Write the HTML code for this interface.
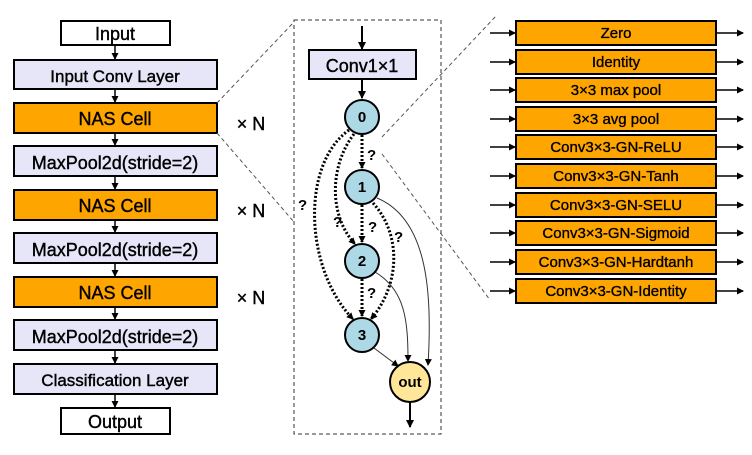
<!DOCTYPE html>
<html><head><meta charset="utf-8"><style>
html,body{margin:0;padding:0;background:#fff;}
svg text{font-family:"Liberation Sans",sans-serif;}
</style></head><body>
<svg width="752" height="450" viewBox="0 0 752 450" xmlns="http://www.w3.org/2000/svg">
<defs>
<marker id="a" markerWidth="8" markerHeight="8" refX="7" refY="4" orient="auto" markerUnits="userSpaceOnUse"><path d="M0,0 L8,4 L0,8 z" fill="#000"/></marker>
<marker id="s" markerWidth="7" markerHeight="7" refX="6" refY="3.5" orient="auto" markerUnits="userSpaceOnUse"><path d="M0,0 L7,3.5 L0,7 z" fill="#000"/></marker>
</defs>
<g stroke="#000" stroke-width="2">
<rect x="61" y="21" width="109" height="24" fill="#fff"/>
<rect x="14" y="60" width="203" height="29" fill="#E6E6F8"/>
<rect x="14" y="103" width="203" height="30" fill="#FFA500"/>
<rect x="14" y="146" width="203" height="30" fill="#E6E6F8"/>
<rect x="14" y="190" width="203" height="30" fill="#FFA500"/>
<rect x="14" y="233" width="203" height="30" fill="#E6E6F8"/>
<rect x="14" y="277" width="203" height="30" fill="#FFA500"/>
<rect x="14" y="320" width="203" height="30" fill="#E6E6F8"/>
<rect x="14" y="364" width="203" height="30" fill="#E6E6F8"/>
<rect x="61" y="408" width="109" height="26" fill="#fff"/>
</g>
<g stroke="#000" stroke-width="1.5" marker-end="url(#s)">
<line x1="115" y1="45" x2="115" y2="59"/>
<line x1="115" y1="89" x2="115" y2="102"/>
<line x1="115" y1="133" x2="115" y2="145"/>
<line x1="115" y1="176" x2="115" y2="189"/>
<line x1="115" y1="220" x2="115" y2="232"/>
<line x1="115" y1="263" x2="115" y2="276"/>
<line x1="115" y1="307" x2="115" y2="319"/>
<line x1="115" y1="350" x2="115" y2="363"/>
<line x1="115" y1="394" x2="115" y2="407"/>
</g>
<g font-size="18" text-anchor="middle" fill="#000" stroke="#000" stroke-width="0.4">
<text x="115" y="40">Input</text>
<text x="115" y="82" font-size="17">Input Conv Layer</text>
<text x="115" y="125">NAS Cell</text>
<text x="115" y="169">MaxPool2d(stride=2)</text>
<text x="115" y="212">NAS Cell</text>
<text x="115" y="256">MaxPool2d(stride=2)</text>
<text x="115" y="299">NAS Cell</text>
<text x="115" y="343">MaxPool2d(stride=2)</text>
<text x="115" y="386" font-size="17">Classification Layer</text>
<text x="115" y="428">Output</text>
<text x="251" y="130">× N</text>
<text x="251" y="217">× N</text>
<text x="251" y="304">× N</text>
</g>
<g stroke="#555" stroke-width="1" stroke-dasharray="4,3" fill="none">
<line x1="217" y1="103" x2="294" y2="22"/>
<line x1="217" y1="133" x2="294" y2="222"/>
<line x1="382" y1="137" x2="496" y2="16"/>
<line x1="382" y1="154" x2="490" y2="300"/>
<rect x="294" y="20" width="147" height="414" stroke="#333"/>
</g>
<line x1="362" y1="26" x2="362" y2="49" stroke="#000" stroke-width="2" marker-end="url(#a)"/>
<rect x="309" y="50" width="107" height="29" fill="#E6E6F8" stroke="#000" stroke-width="2"/>
<text x="362" y="72" font-size="18" text-anchor="middle" stroke="#000" stroke-width="0.4">Conv1×1</text>
<line x1="362" y1="79" x2="362" y2="98" stroke="#000" stroke-width="2" marker-end="url(#a)"/>
<g stroke="#000" stroke-width="3" stroke-dasharray="2,2" fill="none" marker-end="url(#s)">
<line x1="362" y1="135" x2="362" y2="168"/>
<line x1="362" y1="205" x2="362" y2="242"/>
<line x1="362" y1="279" x2="362" y2="316"/>
<path d="M354,134 C330,165 328,215 355,244"/>
<path d="M349,130 C300,165 305,270 353,319"/>
<path d="M373,203 C402,235 400,285 371,319"/>
</g>
<g stroke="#333" stroke-width="1" fill="none" marker-end="url(#s)">
<path d="M377,198 C430,220 432,300 428,365"/>
<path d="M375,272 C405,290 408,320 408,361"/>
<line x1="374" y1="348" x2="398" y2="366"/>
</g>
<line x1="410" y1="402" x2="410" y2="427" stroke="#000" stroke-width="2" marker-end="url(#a)"/>
<g stroke="#000" stroke-width="2" fill="#ADD8E6">
<circle cx="362" cy="117" r="17"/>
<circle cx="362" cy="187" r="17"/>
<circle cx="362" cy="261" r="17"/>
<circle cx="362" cy="335" r="17"/>
<circle cx="410" cy="382" r="20" fill="#FFE699"/>
</g>
<g font-size="15" font-weight="bold" text-anchor="middle">
<text x="362" y="122">0</text>
<text x="362" y="192">1</text>
<text x="362" y="266">2</text>
<text x="362" y="340">3</text>
<text x="410" y="387">out</text>
</g>
<g font-size="15" font-weight="bold">
<text x="367" y="160">?</text>
<text x="298" y="210">?</text>
<text x="333" y="227">?</text>
<text x="368" y="232">?</text>
<text x="394" y="242">?</text>
<text x="367" y="298">?</text>
</g>
<g stroke="#000" stroke-width="2" fill="#FFA500">
<rect x="516" y="21" width="200" height="24"/>
<rect x="516" y="50" width="200" height="24"/>
<rect x="516" y="78" width="200" height="24"/>
<rect x="516" y="107" width="200" height="24"/>
<rect x="516" y="135" width="200" height="24"/>
<rect x="516" y="164" width="200" height="24"/>
<rect x="516" y="193" width="200" height="24"/>
<rect x="516" y="221" width="200" height="24"/>
<rect x="516" y="250" width="200" height="24"/>
<rect x="516" y="279" width="200" height="24"/>
</g>
<g stroke="#000" stroke-width="1.5" marker-end="url(#s)">
<line x1="490" y1="33" x2="515" y2="33"/><line x1="716" y1="33" x2="743" y2="33"/>
<line x1="490" y1="62" x2="515" y2="62"/><line x1="716" y1="62" x2="743" y2="62"/>
<line x1="490" y1="90" x2="515" y2="90"/><line x1="716" y1="90" x2="743" y2="90"/>
<line x1="490" y1="119" x2="515" y2="119"/><line x1="716" y1="119" x2="743" y2="119"/>
<line x1="490" y1="147" x2="515" y2="147"/><line x1="716" y1="147" x2="743" y2="147"/>
<line x1="490" y1="176" x2="515" y2="176"/><line x1="716" y1="176" x2="743" y2="176"/>
<line x1="490" y1="205" x2="515" y2="205"/><line x1="716" y1="205" x2="743" y2="205"/>
<line x1="490" y1="233" x2="515" y2="233"/><line x1="716" y1="233" x2="743" y2="233"/>
<line x1="490" y1="262" x2="515" y2="262"/><line x1="716" y1="262" x2="743" y2="262"/>
<line x1="490" y1="291" x2="515" y2="291"/><line x1="716" y1="291" x2="743" y2="291"/>
</g>
<g font-size="15" text-anchor="middle" stroke="#000" stroke-width="0.35">
<text x="616" y="38">Zero</text>
<text x="616" y="67">Identity</text>
<text x="616" y="95">3×3 max pool</text>
<text x="616" y="124">3×3 avg pool</text>
<text x="616" y="152">Conv3×3-GN-ReLU</text>
<text x="616" y="181">Conv3×3-GN-Tanh</text>
<text x="616" y="210">Conv3×3-GN-SELU</text>
<text x="616" y="238">Conv3×3-GN-Sigmoid</text>
<text x="616" y="267">Conv3×3-GN-Hardtanh</text>
<text x="616" y="296">Conv3×3-GN-Identity</text>
</g>
</svg>
</body></html>
